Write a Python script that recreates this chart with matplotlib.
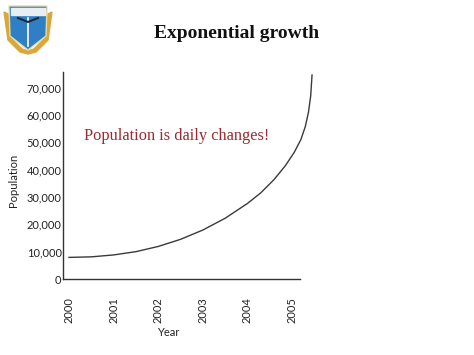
import matplotlib
matplotlib.use("Agg")
import matplotlib.pyplot as plt
from matplotlib.patches import Polygon
from matplotlib.ticker import FuncFormatter

# values
years = [2000.00, 2000.50, 2001.00, 2001.50, 2002.00, 2002.50, 2003.00,
         2003.50, 2004.00, 2004.30, 2004.60, 2004.85, 2005.05, 2005.20,
         2005.30, 2005.37, 2005.42, 2005.45]
population = [7900, 8100, 8800, 10000, 11900, 14500, 17900,
              22200, 27600, 31500, 36400, 41400, 46300, 51000,
              55800, 61000, 67000, 74600]

year_ticks = [2000, 2001, 2002, 2003, 2004, 2005]
pop_ticks = [0, 10000, 20000, 30000, 40000, 50000, 60000, 70000]

W, H = 474, 355
fig = plt.figure(figsize=(W / 100, H / 100), dpi=100)

ax = fig.add_axes([63 / W, 1 - 279 / H, (300 - 63) / W, (279 - 72) / H])
ax.plot(years, population, color='#3a3a3a', linewidth=1.0, clip_on=False,
        solid_joinstyle='round')

ax.set_xlim(1999.865, 2005.18)
ax.set_ylim(700, 75700)
ax.set_xticks(year_ticks)
ax.set_yticks(pop_ticks)
ax.yaxis.set_major_formatter(FuncFormatter(lambda v, p: f"{int(v):,}"))
ax.tick_params(length=0, labelsize=8, labelcolor='#222222')
ax.tick_params(axis='x', rotation=90, pad=13)
ax.tick_params(axis='y', pad=1)
for lab in ax.get_xticklabels() + ax.get_yticklabels():
    lab.set_fontfamily('Lato')

ax.spines['top'].set_visible(False)
ax.spines['right'].set_visible(False)
ax.spines['left'].set_color('#333333')
ax.spines['bottom'].set_color('#333333')
ax.spines['left'].set_linewidth(1.0)
ax.spines['bottom'].set_linewidth(1.0)

fig.text(14 / W, 1 - 180 / H, 'Population', rotation=90, ha='center', va='center',
         fontsize=8, family='Lato', color='#222222')
fig.text(168 / W, 1 - 333 / H, 'Year', ha='center', va='center',
         fontsize=8, family='Lato', color='#222222')

fig.text(237 / W, 1 - 33 / H, 'Exponential growth', ha='center', va='center',
         fontsize=14, fontweight='bold', family='Liberation Serif', color='#111111')
fig.text(177 / W, 1 - 136 / H, 'Population is daily changes!', ha='center', va='center',
         fontsize=11.8, family='Liberation Serif', color='#9b2a2e')

# small emblem in the upper-left corner
lg = fig.add_axes([0, 1 - 56 / H, 56 / W, 56 / H])
lg.set_xlim(0, 56)
lg.set_ylim(56, 0)
lg.axis('off')
lg.add_patch(Polygon([[4, 12], [8, 40], [20, 52], [28, 54], [36, 52], [48, 40], [52, 12],
                      [48, 14], [45, 38], [34, 49], [28, 51], [22, 49], [11, 38], [8, 14]],
                     closed=True, color='#d9a73a'))
lg.add_patch(Polygon([[9, 6], [47, 6], [46, 36], [28, 50], [10, 36]],
                     closed=True, facecolor='#2f7fc4', edgecolor='#e8d9a0', linewidth=1))
lg.add_patch(Polygon([[11, 8], [45, 8], [45, 15], [11, 15]], closed=True, color='#e9eef5'))
lg.plot([28, 28], [18, 46], color='white', linewidth=1.2)
lg.plot([18, 28, 38], [18, 22, 18], color='#1d2a3a', linewidth=1.5)

fig.savefig('out.png', dpi=100)
